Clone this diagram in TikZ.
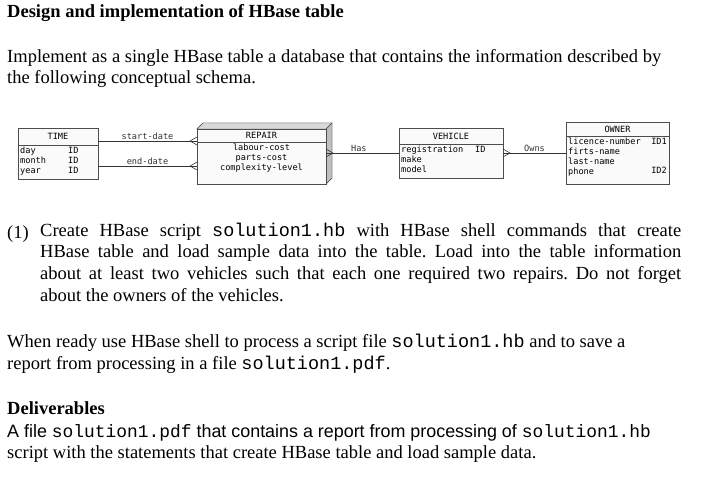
\documentclass[tikz,border=0pt]{standalone}
\usepackage{fontspec}
\setmainfont{Liberation Serif}
\setsansfont{Liberation Sans}
\setmonofont{Liberation Mono}
\newfontfamily\ermono{DejaVu Sans Mono}
\usetikzlibrary{positioning}
\frenchspacing
\tikzstyle{entity} = [draw=black!70, fill=black!2, rectangle, inner sep=0pt]
\tikzstyle{header} = [font=\ermono\fontsize{8.6}{10}\selectfont, inner sep=0pt]
\tikzstyle{attr} = [font=\ermono\fontsize{8.6}{9.8}\selectfont, inner sep=0pt, align=left]
\tikzstyle{rel} = [font=\ermono\fontsize{8.6}{10}\selectfont, inner sep=1pt, above]
\tikzstyle{para} = [inner sep=0pt, anchor=base west, font=\fontsize{18.5}{21.7}\selectfont]
\tikzstyle{link} = [draw, black!80, semithick]
\newcommand{\crowleft}[2]{\draw[link] (#1-7,#2) -- (#1,#2-4) (#1-7,#2) -- (#1,#2+4);}
\newcommand{\crowright}[2]{\draw[link] (#1+7,#2) -- (#1,#2-4) (#1+7,#2) -- (#1,#2+4);}
\begin{document}
\begin{tikzpicture}[x=1pt, y=-1pt]
  \useasboundingbox (0,0) rectangle (711,476);
  \fill[white] (0,0) rectangle (711,476);
  % Text above the schema
  \node [para, font=\bfseries\fontsize{18.5}{20}\selectfont] (title) at (7,18) {Design and implementation of HBase table};
  \node [para] (intro1) at (7,63) {Implement as a single HBase table a database that contains the information described by};
  \node [para] (intro2) at (7,84) {the following conceptual schema.};
  % Place entities
  \draw [entity] (18,128) rectangle (98,179);
  \draw [black!70] (18,145) -- (98,145);
  \node [header] (time) at (58,136.5) {TIME};
  \node [attr, anchor=north west] (timeattr) at (20,147) {day\\month\\year};
  \node [attr, anchor=north west] (timeid) at (68,147) {ID\\ID\\ID};
  \draw [entity] (197,129) -- (203,123) -- (332,123) -- (332,178) -- (326,184) -- (326,129) -- cycle;
  \draw [black!70, fill=black!15] (197,129) -- (203,123) -- (332,123) -- (326,129) -- cycle;
  \draw [black!70, fill=black!25] (326,129) -- (332,123) -- (332,178) -- (326,184) -- cycle;
  \draw [entity] (197,129) rectangle (326,184);
  \draw [black!70] (197,142) -- (326,142);
  \node [header] (repair) at (261.5,135.5) {REPAIR};
  \node [attr, align=center, anchor=north] (repairattr) at (261.5,144) {labour-cost\\parts-cost\\complexity-level};
  \draw [entity] (399,128) rectangle (503,178);
  \draw [black!70] (399,144) -- (503,144);
  \node [header] (vehicle) at (451,136) {VEHICLE};
  \node [attr, anchor=north west] (vehicleattr) at (401,146) {registration\\make\\model};
  \node [attr, anchor=north west] (vehicleid) at (475,146) {ID};
  \draw [entity] (566,122) rectangle (669,184);
  \draw [black!70] (566,136) -- (669,136);
  \node [header] (owner) at (617.5,129) {OWNER};
  \node [attr, anchor=north west] (ownerattr) at (568,138) {licence-number\\firts-name\\last-name\\phone};
  \node [attr, anchor=north east] (ownerid1) at (667,138) {ID1};
  \node [attr, anchor=north east] (ownerid2) at (667,167.4) {ID2};
  % Relationships
  \draw [link] (98,141) -- node [rel] {start-date} (197,141);
  \draw [link] (98,166) -- node [rel] {end-date} (197,166);
  \draw [link] (326,153) -- node [rel, pos=0.45] {Has} (399,153);
  \draw [link] (503,153) -- node [rel] {Owns} (566,153);
  \crowleft{197}{141}
  \crowleft{197}{166}
  \crowright{326}{153}
  \crowright{503}{153}
  % Task text
  \node [para] (num) at (7,238) {(1)};
  \node [para, anchor=north west, text width=641pt, align=justify] (task) at (40,222.5)
    {Create HBase script \texttt{solution1.hb} with HBase shell commands that create\linebreak
     HBase table and load sample data into the table. Load into the table information\linebreak
     about at least two vehicles such that each one required two repairs. Do not forget\linebreak
     about the owners of the vehicles.};
  \node [para] (ready1) at (7,347) {When ready use HBase shell to process a script file \texttt{solution1.hb} and to save a};
  \node [para] (ready2) at (7,369) {report from processing in a file \texttt{solution1.pdf}.};
  \node [para, font=\bfseries\fontsize{18.5}{20}\selectfont] (deliv) at (7,414) {Deliverables};
  \node [para, font=\sffamily\fontsize{17.9}{20}\selectfont] (file1) at (7,437) {A file \texttt{solution1.pdf} that contains a report from processing of \texttt{solution1.hb}};
  \node [para] (file2) at (7,458) {script with the statements that create HBase table and load sample data.};
\end{tikzpicture}
\end{document}
